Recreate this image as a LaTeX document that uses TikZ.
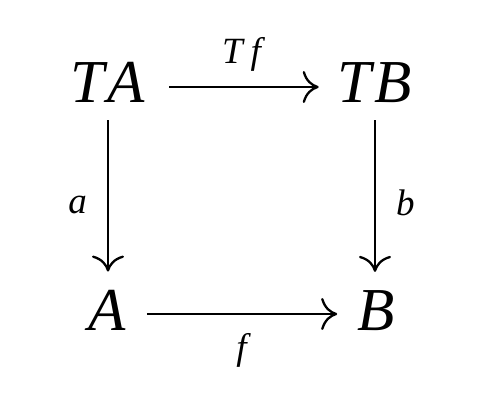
\documentclass[tikz,border=0pt]{standalone}
\usepackage{fontspec}
\setmainfont{Liberation Serif}
\usetikzlibrary{arrows.meta,calc}
\begin{document}
\begin{tikzpicture}[x=1pt,y=-1pt,
  obj/.style={inner sep=0pt,anchor=base,font=\fontsize{61}{72}\selectfont\itshape},
  lbl/.style={inner sep=0pt,font=\fontsize{37}{44}\selectfont\itshape},
  arr/.style={line width=2.3pt,-{Computer Modern Rightarrow[length=16pt,width=32pt,line width=2.3pt]}}]
\useasboundingbox (0,0) rectangle (482,401);
\node[obj] (TA) at (108,103) {T\kern3pt A};
\node[obj] (TB) at (375,103) {T\kern3pt B};
\node[obj] (A) at (107,330) {A};
\node[obj] (B) at (376,330) {B};
\draw[arr,shorten <=24pt,shorten >=19pt] ([yshift=16pt]TA.base east) -- ([yshift=16pt]TB.base west)
  node[lbl,midway,above=14pt] (tf) {T\kern8pt f};
\draw[arr,shorten <=21pt,shorten >=20pt] ([yshift=16pt]A.base east) -- ([yshift=16pt]B.base west)
  node[lbl,midway,below=18pt] (f) {f};
\draw[arr,shorten <=17pt,shorten >=18pt] (TA.south) -- (TA.south |- A.north)
  node[lbl,midway,left=20pt,yshift=-9pt] (a) {a};
\draw[arr,shorten <=17pt,shorten >=18pt] (TB.south) -- (TB.south |- B.north)
  node[lbl,midway,right=20pt,yshift=-6pt] (b) {b};
\end{tikzpicture}
\end{document}
